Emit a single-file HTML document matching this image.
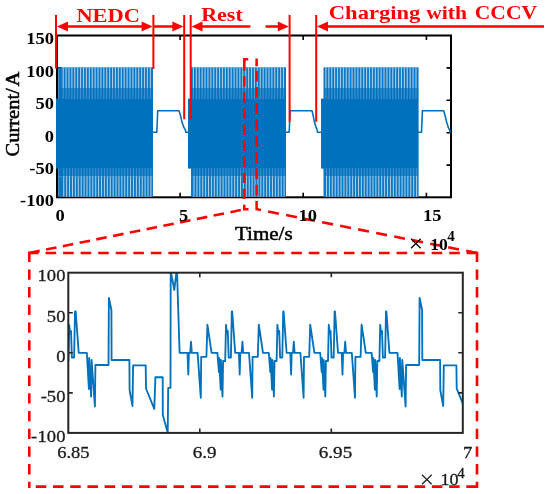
<!DOCTYPE html>
<html lang="en">
<head>
<meta charset="utf-8">
<title>NEDC current profile</title>
<style>
html,body{margin:0;padding:0;background:#fff;}
body{width:550px;height:494px;overflow:hidden;position:relative;}
svg{display:block;position:absolute;left:0;top:0;}
text{font-family:"Liberation Serif",serif;}
.t1{font-size:17.6px;fill:#000;font-weight:bold;}
.t2{font-size:17.5px;fill:#1a1a1a;stroke:#1a1a1a;stroke-width:0.3px;}
.lab{font-size:19.2px;fill:#000;stroke:#000;stroke-width:0.5px;}
.ann{font-size:19.6px;font-weight:bold;fill:#ff0000;}
</style>
</head>
<body>
<svg width="550" height="494" viewBox="0 0 550 494">
<rect x="0" y="0" width="550" height="494" fill="#ffffff"/>

<g id="upper-axes" fill="none" stroke="#000000" stroke-width="2">
<rect x="57.0" y="35.5" width="394.0" height="161.8"/>
<path d="M180.1 35.5 v4.5 M180.1 197.3 v-4.5 M303.2 35.5 v4.5 M303.2 197.3 v-4.5 M426.4 35.5 v4.5 M426.4 197.3 v-4.5 M57.0 67.9 h4.5 M451.0 67.9 h-4.5 M57.0 100.3 h4.5 M451.0 100.3 h-4.5 M57.0 132.7 h4.5 M451.0 132.7 h-4.5 M57.0 165.1 h4.5 M451.0 165.1 h-4.5" stroke-width="1.6"/>
</g>
<g id="upper-data">
<rect x="56.0" y="98.6" width="97.0" height="70" fill="#0072bd"/>
<rect x="58.2" y="67.3" width="94.8" height="20.9" fill="#0e79c2"/>
<rect x="58.2" y="88" width="94.8" height="11" fill="#0574be"/>
<rect x="58.2" y="168" width="94.8" height="8.5" fill="#0574be"/>
<rect x="58.2" y="176.3" width="94.8" height="20.5" fill="#0e79c2"/>
<path d="M63.15 67.3V88.2 M66.06 67.3V88.2 M68.96 67.3V88.2 M71.87 67.3V88.2 M74.77 67.3V88.2 M77.68 67.3V88.2 M80.59 67.3V88.2 M83.49 67.3V88.2 M86.40 67.3V88.2 M89.30 67.3V88.2 M92.21 67.3V88.2 M95.12 67.3V88.2 M98.02 67.3V88.2 M100.93 67.3V88.2 M103.83 67.3V88.2 M106.74 67.3V88.2 M109.65 67.3V88.2 M112.55 67.3V88.2 M115.46 67.3V88.2 M118.36 67.3V88.2 M121.27 67.3V88.2 M124.18 67.3V88.2 M127.08 67.3V88.2 M129.99 67.3V88.2 M132.89 67.3V88.2 M135.80 67.3V88.2 M138.71 67.3V88.2 M141.61 67.3V88.2 M144.52 67.3V88.2 M147.42 67.3V88.2 M150.33 67.3V88.2" stroke="#a6cdea" stroke-width="1.1" fill="none"/>
<path d="M63.15 88.2V99.0 M66.06 88.2V99.0 M68.96 88.2V99.0 M71.87 88.2V99.0 M74.77 88.2V99.0 M77.68 88.2V99.0 M80.59 88.2V99.0 M83.49 88.2V99.0 M86.40 88.2V99.0 M89.30 88.2V99.0 M92.21 88.2V99.0 M95.12 88.2V99.0 M98.02 88.2V99.0 M100.93 88.2V99.0 M103.83 88.2V99.0 M106.74 88.2V99.0 M109.65 88.2V99.0 M112.55 88.2V99.0 M115.46 88.2V99.0 M118.36 88.2V99.0 M121.27 88.2V99.0 M124.18 88.2V99.0 M127.08 88.2V99.0 M129.99 88.2V99.0 M132.89 88.2V99.0 M135.80 88.2V99.0 M138.71 88.2V99.0 M141.61 88.2V99.0 M144.52 88.2V99.0 M147.42 88.2V99.0 M150.33 88.2V99.0" stroke="#3f92cf" stroke-width="1.1" fill="none"/>
<path d="M63.75 168.0V176.4 M66.66 168.0V176.4 M69.56 168.0V176.4 M72.47 168.0V176.4 M75.37 168.0V176.4 M78.28 168.0V176.4 M81.19 168.0V176.4 M84.09 168.0V176.4 M87.00 168.0V176.4 M89.90 168.0V176.4 M92.81 168.0V176.4 M95.72 168.0V176.4 M98.62 168.0V176.4 M101.53 168.0V176.4 M104.43 168.0V176.4 M107.34 168.0V176.4 M110.25 168.0V176.4 M113.15 168.0V176.4 M116.06 168.0V176.4 M118.96 168.0V176.4 M121.87 168.0V176.4 M124.78 168.0V176.4 M127.68 168.0V176.4 M130.59 168.0V176.4 M133.49 168.0V176.4 M136.40 168.0V176.4 M139.31 168.0V176.4 M142.21 168.0V176.4 M145.12 168.0V176.4 M148.02 168.0V176.4 M150.93 168.0V176.4" stroke="#3f92cf" stroke-width="1.0" fill="none"/>
<path d="M63.75 176.4V196.8 M66.66 176.4V196.8 M69.56 176.4V196.8 M72.47 176.4V196.8 M75.37 176.4V196.8 M78.28 176.4V196.8 M81.19 176.4V196.8 M84.09 176.4V196.8 M87.00 176.4V196.8 M89.90 176.4V196.8 M92.81 176.4V196.8 M95.72 176.4V196.8 M98.62 176.4V196.8 M101.53 176.4V196.8 M104.43 176.4V196.8 M107.34 176.4V196.8 M110.25 176.4V196.8 M113.15 176.4V196.8 M116.06 176.4V196.8 M118.96 176.4V196.8 M121.87 176.4V196.8 M124.78 176.4V196.8 M127.68 176.4V196.8 M130.59 176.4V196.8 M133.49 176.4V196.8 M136.40 176.4V196.8 M139.31 176.4V196.8 M142.21 176.4V196.8 M145.12 176.4V196.8 M148.02 176.4V196.8 M150.93 176.4V196.8" stroke="#c2ddf1" stroke-width="0.9" fill="none"/>
<rect x="188.0" y="98.6" width="98.0" height="70" fill="#0072bd"/>
<rect x="191.0" y="67.3" width="95.0" height="20.9" fill="#0e79c2"/>
<rect x="191.0" y="88" width="95.0" height="11" fill="#0574be"/>
<rect x="191.0" y="168" width="95.0" height="8.5" fill="#0574be"/>
<rect x="191.0" y="176.3" width="95.0" height="20.5" fill="#0e79c2"/>
<path d="M193.40 67.3V88.2 M196.31 67.3V88.2 M199.21 67.3V88.2 M202.12 67.3V88.2 M205.02 67.3V88.2 M207.93 67.3V88.2 M210.84 67.3V88.2 M213.74 67.3V88.2 M216.65 67.3V88.2 M219.55 67.3V88.2 M222.46 67.3V88.2 M225.37 67.3V88.2 M228.27 67.3V88.2 M231.18 67.3V88.2 M234.08 67.3V88.2 M236.99 67.3V88.2 M239.90 67.3V88.2 M242.80 67.3V88.2 M245.71 67.3V88.2 M248.61 67.3V88.2 M251.52 67.3V88.2 M254.43 67.3V88.2 M257.33 67.3V88.2 M260.24 67.3V88.2 M263.14 67.3V88.2 M266.05 67.3V88.2 M268.96 67.3V88.2 M271.86 67.3V88.2 M274.77 67.3V88.2 M277.67 67.3V88.2 M280.58 67.3V88.2 M283.49 67.3V88.2" stroke="#a6cdea" stroke-width="1.1" fill="none"/>
<path d="M193.40 88.2V99.0 M196.31 88.2V99.0 M199.21 88.2V99.0 M202.12 88.2V99.0 M205.02 88.2V99.0 M207.93 88.2V99.0 M210.84 88.2V99.0 M213.74 88.2V99.0 M216.65 88.2V99.0 M219.55 88.2V99.0 M222.46 88.2V99.0 M225.37 88.2V99.0 M228.27 88.2V99.0 M231.18 88.2V99.0 M234.08 88.2V99.0 M236.99 88.2V99.0 M239.90 88.2V99.0 M242.80 88.2V99.0 M245.71 88.2V99.0 M248.61 88.2V99.0 M251.52 88.2V99.0 M254.43 88.2V99.0 M257.33 88.2V99.0 M260.24 88.2V99.0 M263.14 88.2V99.0 M266.05 88.2V99.0 M268.96 88.2V99.0 M271.86 88.2V99.0 M274.77 88.2V99.0 M277.67 88.2V99.0 M280.58 88.2V99.0 M283.49 88.2V99.0" stroke="#3f92cf" stroke-width="1.1" fill="none"/>
<path d="M194.00 168.0V176.4 M196.91 168.0V176.4 M199.81 168.0V176.4 M202.72 168.0V176.4 M205.62 168.0V176.4 M208.53 168.0V176.4 M211.44 168.0V176.4 M214.34 168.0V176.4 M217.25 168.0V176.4 M220.15 168.0V176.4 M223.06 168.0V176.4 M225.97 168.0V176.4 M228.87 168.0V176.4 M231.78 168.0V176.4 M234.68 168.0V176.4 M237.59 168.0V176.4 M240.50 168.0V176.4 M243.40 168.0V176.4 M246.31 168.0V176.4 M249.21 168.0V176.4 M252.12 168.0V176.4 M255.03 168.0V176.4 M257.93 168.0V176.4 M260.84 168.0V176.4 M263.74 168.0V176.4 M266.65 168.0V176.4 M269.56 168.0V176.4 M272.46 168.0V176.4 M275.37 168.0V176.4 M278.27 168.0V176.4 M281.18 168.0V176.4 M284.09 168.0V176.4" stroke="#3f92cf" stroke-width="1.0" fill="none"/>
<path d="M194.00 176.4V196.8 M196.91 176.4V196.8 M199.81 176.4V196.8 M202.72 176.4V196.8 M205.62 176.4V196.8 M208.53 176.4V196.8 M211.44 176.4V196.8 M214.34 176.4V196.8 M217.25 176.4V196.8 M220.15 176.4V196.8 M223.06 176.4V196.8 M225.97 176.4V196.8 M228.87 176.4V196.8 M231.78 176.4V196.8 M234.68 176.4V196.8 M237.59 176.4V196.8 M240.50 176.4V196.8 M243.40 176.4V196.8 M246.31 176.4V196.8 M249.21 176.4V196.8 M252.12 176.4V196.8 M255.03 176.4V196.8 M257.93 176.4V196.8 M260.84 176.4V196.8 M263.74 176.4V196.8 M266.65 176.4V196.8 M269.56 176.4V196.8 M272.46 176.4V196.8 M275.37 176.4V196.8 M278.27 176.4V196.8 M281.18 176.4V196.8 M284.09 176.4V196.8" stroke="#c2ddf1" stroke-width="0.9" fill="none"/>
<rect x="321.0" y="98.6" width="97.6" height="70" fill="#0072bd"/>
<rect x="323.5" y="67.3" width="95.1" height="20.9" fill="#0e79c2"/>
<rect x="323.5" y="88" width="95.1" height="11" fill="#0574be"/>
<rect x="323.5" y="168" width="95.1" height="8.5" fill="#0574be"/>
<rect x="323.5" y="176.3" width="95.1" height="20.5" fill="#0e79c2"/>
<path d="M325.90 67.3V88.2 M328.81 67.3V88.2 M331.71 67.3V88.2 M334.62 67.3V88.2 M337.52 67.3V88.2 M340.43 67.3V88.2 M343.34 67.3V88.2 M346.24 67.3V88.2 M349.15 67.3V88.2 M352.05 67.3V88.2 M354.96 67.3V88.2 M357.87 67.3V88.2 M360.77 67.3V88.2 M363.68 67.3V88.2 M366.58 67.3V88.2 M369.49 67.3V88.2 M372.40 67.3V88.2 M375.30 67.3V88.2 M378.21 67.3V88.2 M381.11 67.3V88.2 M384.02 67.3V88.2 M386.93 67.3V88.2 M389.83 67.3V88.2 M392.74 67.3V88.2 M395.64 67.3V88.2 M398.55 67.3V88.2 M401.46 67.3V88.2 M404.36 67.3V88.2 M407.27 67.3V88.2 M410.17 67.3V88.2 M413.08 67.3V88.2 M415.99 67.3V88.2" stroke="#a6cdea" stroke-width="1.1" fill="none"/>
<path d="M325.90 88.2V99.0 M328.81 88.2V99.0 M331.71 88.2V99.0 M334.62 88.2V99.0 M337.52 88.2V99.0 M340.43 88.2V99.0 M343.34 88.2V99.0 M346.24 88.2V99.0 M349.15 88.2V99.0 M352.05 88.2V99.0 M354.96 88.2V99.0 M357.87 88.2V99.0 M360.77 88.2V99.0 M363.68 88.2V99.0 M366.58 88.2V99.0 M369.49 88.2V99.0 M372.40 88.2V99.0 M375.30 88.2V99.0 M378.21 88.2V99.0 M381.11 88.2V99.0 M384.02 88.2V99.0 M386.93 88.2V99.0 M389.83 88.2V99.0 M392.74 88.2V99.0 M395.64 88.2V99.0 M398.55 88.2V99.0 M401.46 88.2V99.0 M404.36 88.2V99.0 M407.27 88.2V99.0 M410.17 88.2V99.0 M413.08 88.2V99.0 M415.99 88.2V99.0" stroke="#3f92cf" stroke-width="1.1" fill="none"/>
<path d="M326.50 168.0V176.4 M329.41 168.0V176.4 M332.31 168.0V176.4 M335.22 168.0V176.4 M338.12 168.0V176.4 M341.03 168.0V176.4 M343.94 168.0V176.4 M346.84 168.0V176.4 M349.75 168.0V176.4 M352.65 168.0V176.4 M355.56 168.0V176.4 M358.47 168.0V176.4 M361.37 168.0V176.4 M364.28 168.0V176.4 M367.18 168.0V176.4 M370.09 168.0V176.4 M373.00 168.0V176.4 M375.90 168.0V176.4 M378.81 168.0V176.4 M381.71 168.0V176.4 M384.62 168.0V176.4 M387.53 168.0V176.4 M390.43 168.0V176.4 M393.34 168.0V176.4 M396.24 168.0V176.4 M399.15 168.0V176.4 M402.06 168.0V176.4 M404.96 168.0V176.4 M407.87 168.0V176.4 M410.77 168.0V176.4 M413.68 168.0V176.4 M416.59 168.0V176.4" stroke="#3f92cf" stroke-width="1.0" fill="none"/>
<path d="M326.50 176.4V196.8 M329.41 176.4V196.8 M332.31 176.4V196.8 M335.22 176.4V196.8 M338.12 176.4V196.8 M341.03 176.4V196.8 M343.94 176.4V196.8 M346.84 176.4V196.8 M349.75 176.4V196.8 M352.65 176.4V196.8 M355.56 176.4V196.8 M358.47 176.4V196.8 M361.37 176.4V196.8 M364.28 176.4V196.8 M367.18 176.4V196.8 M370.09 176.4V196.8 M373.00 176.4V196.8 M375.90 176.4V196.8 M378.81 176.4V196.8 M381.71 176.4V196.8 M384.62 176.4V196.8 M387.53 176.4V196.8 M390.43 176.4V196.8 M393.34 176.4V196.8 M396.24 176.4V196.8 M399.15 176.4V196.8 M402.06 176.4V196.8 M404.96 176.4V196.8 M407.87 176.4V196.8 M410.77 176.4V196.8 M413.68 176.4V196.8 M416.59 176.4V196.8" stroke="#c2ddf1" stroke-width="0.9" fill="none"/>
<g fill="none" stroke="#0072bd" stroke-width="1.6" stroke-linejoin="round">
<path d="M153.0 132.2 L156.8 132.2 L157.7 110.8 L179.0 110.8 L180.3 114.8 L182.0 122.1 L184.1 127.9 L185.4 129.9 L185.7 132.2 L188.5 132.2"/>
<path d="M285.5 132.2 L289.2 132.2 L290.1 110.8 L312.0 110.8 L313.0 114.8 L314.5 122.1 L316.2 127.9 L317.2 129.9 L317.5 132.2 L321.5 132.2"/>
<path d="M418.0 132.2 L421.5 132.2 L422.4 110.8 L443.7 110.8 L444.9 114.8 L446.6 122.1 L448.5 127.9 L449.7 129.9 L450.0 132.2 L450.8 132.2"/>
</g></g>
<g id="annot" stroke="#ff0000" fill="none" stroke-width="2">
<path d="M56 15 V68.5 M153.4 15 V69 M184.2 15 V119.2 M190.7 15 V119.2 M289.6 15 V121.8 M316.2 15 V121.8"/>
<path d="M60 26.5 H150 M154 26.5 H178 M197 26.5 H250.4 M265.5 26.5 H283 M323 26.5 H544" stroke-width="2.3"/>
</g>
<path d="M57.0 26.5 L68.0 21.5 L68.0 31.5 Z" fill="#ff0000"/>
<path d="M152.6 26.5 L141.6 21.5 L141.6 31.5 Z" fill="#ff0000"/>
<path d="M183.4 26.5 L172.4 21.5 L172.4 31.5 Z" fill="#ff0000"/>
<path d="M191.5 26.5 L202.5 21.5 L202.5 31.5 Z" fill="#ff0000"/>
<path d="M288.8 26.5 L277.8 21.5 L277.8 31.5 Z" fill="#ff0000"/>
<path d="M317.0 26.5 L328.0 21.5 L328.0 31.5 Z" fill="#ff0000"/>
<text class="ann" x="76.4" y="21.6" textLength="63.6" lengthAdjust="spacingAndGlyphs">NEDC</text>
<text class="ann" x="201.2" y="21.3" textLength="41.6" lengthAdjust="spacingAndGlyphs">Rest</text>
<text class="ann" y="19.1"><tspan x="328.8" textLength="91.5" lengthAdjust="spacingAndGlyphs">Charging</tspan><tspan x="420.6" textLength="5.6" lengthAdjust="spacingAndGlyphs"> </tspan><tspan x="426.2" textLength="40.8" lengthAdjust="spacingAndGlyphs">with</tspan><tspan x="467.6" textLength="7" lengthAdjust="spacingAndGlyphs"> </tspan><tspan x="474.8" textLength="62.2" lengthAdjust="spacingAndGlyphs">CCCV</tspan></text>
<g id="zoom" stroke="#ff0000" fill="none" stroke-width="2.5">
<path d="M244.3 60.3 V209.4" stroke-dasharray="10.4 5.65"/>
<path d="M244.3 58 V62 M243.05 59.2 H248.3 M243.05 209.2 H248.5 M256.6 58.5 V66.2"/>
<path d="M256.6 70.7 V210.3" stroke-dasharray="10.8 5.5"/>
<path d="M477 253 L257 209.3" stroke-dasharray="11 7.36" stroke-width="2.6"/>
<path d="M29.3 253 L244 209.4" stroke-dasharray="10.6 6.5" stroke-width="2.6"/>
<path d="M28 253 H478.3" stroke-dasharray="10.6 6.95" stroke-width="2.6"/>
<path d="M35.8 486.6 H478.3" stroke-dasharray="10.5 6.72" stroke-width="2.6"/>
<path d="M29.3 251.7 V488 M477 251.7 V488" stroke-dasharray="10.3 7.4" stroke-width="2.6"/>
</g>
<g class="t1">
<text transform="translate(53.9 44.4) scale(1.050 1)" text-anchor="end">150</text>
<text transform="translate(53.9 76.8) scale(1.050 1)" text-anchor="end">100</text>
<text transform="translate(53.9 109.2) scale(1.050 1)" text-anchor="end">50</text>
<text transform="translate(53.9 141.6) scale(1.050 1)" text-anchor="end">0</text>
<text transform="translate(53.9 174.0) scale(1.050 1)" text-anchor="end">-50</text>
<text transform="translate(53.9 206.4) scale(1.050 1)" text-anchor="end">-100</text>
<text transform="translate(55.6 221.3) scale(1.050 1)">0</text>
<text transform="translate(179.1 221.3) scale(1.050 1)">5</text>
<text transform="translate(298.6 221.3) scale(1.050 1)">10</text>
<text transform="translate(423.1 221.3) scale(1.050 1)">15</text>
</g>
<text class="lab" x="235" y="239.6" textLength="57.6" lengthAdjust="spacingAndGlyphs">Time/s</text>
<text class="lab" transform="translate(19 156.5) rotate(-90)" textLength="84.8" lengthAdjust="spacingAndGlyphs">Current/<tspan dx="1.6">A</tspan></text>
<text class="t1" x="408.6" y="251.6" style="font-weight:normal;font-size:26px">×</text>
<text class="t1" x="430.3" y="250.3">10</text>
<text class="t1" x="447.2" y="240.9" style="font-size:15px">4</text>
<clipPath id="lc"><rect x="68.3" y="271.7" width="394.5" height="162.2"/></clipPath>
<path d="M23.8 311.5 L24.0 311.5 L27.0 352.8 L30.7 352.8 L31.5 374.5 L32.1 352.8 L33.4 352.8 L34.2 341.7 L35.0 352.8 L40.8 352.8 L44.0 397.8 L44.4 356.8 L49.6 356.8 L50.6 324.7 L54.8 352.8 L60.6 352.8 L62.1 372.0 L62.3 358.0 L63.9 389.6 L64.1 360.0 L65.7 396.5 L66.3 361.0 L68.4 361.0 L69.2 324.8 L70.2 333.5 L71.0 331.0 L71.9 357.5 L74.1 357.5 L75.0 311.5 L75.5 311.5 L75.7 311.5 L78.7 352.8 L86.8 352.8 L88.9 389.0 L89.2 358.0 L91.1 396.5 L91.6 360.0 L94.9 406.5 L95.4 365.0 L108.5 365.0 L108.9 298.0 L111.4 310.0 L111.6 360.0 L129.4 360.0 L129.6 390.0 L132.5 406.0 L133.1 365.3 L145.7 365.3 L146.0 388.5 L154.3 408.9 L155.4 377.2 L162.7 377.2 L162.8 415.0 L167.7 432.6 L168.2 387.8 L170.5 387.8 L170.7 272.8 L171.1 272.8 L174.3 290.0 L176.3 272.8 L177.1 274.0 L179.6 352.8 L183.8 352.8 L187.5 352.8 L188.3 374.5 L188.9 352.8 L190.2 352.8 L191.0 341.7 L191.8 352.8 L197.6 352.8 L200.8 397.8 L201.2 356.8 L206.4 356.8 L207.4 324.7 L211.6 352.8 L217.4 352.8 L218.9 372.0 L219.1 358.0 L220.7 389.6 L220.9 360.0 L222.5 396.5 L223.1 361.0 L225.2 361.0 L226.0 324.8 L227.0 333.5 L227.8 331.0 L228.7 357.5 L230.9 357.5 L231.8 311.5 L232.0 311.5 L232.2 311.5 L235.2 352.8 L238.9 352.8 L239.7 374.5 L240.3 352.8 L241.6 352.8 L242.4 341.7 L243.2 352.8 L249.0 352.8 L252.2 397.8 L252.6 356.8 L257.8 356.8 L258.8 324.7 L263.0 352.8 L268.8 352.8 L270.3 372.0 L270.5 358.0 L272.1 389.6 L272.3 360.0 L273.9 396.5 L274.5 361.0 L276.6 361.0 L277.4 324.8 L278.4 333.5 L279.2 331.0 L280.1 357.5 L282.3 357.5 L283.2 311.5 L283.4 311.5 L283.6 311.5 L286.6 352.8 L290.3 352.8 L291.1 374.5 L291.7 352.8 L293.0 352.8 L293.8 341.7 L294.6 352.8 L300.4 352.8 L303.6 397.8 L304.0 356.8 L309.2 356.8 L310.2 324.7 L314.4 352.8 L320.2 352.8 L321.7 372.0 L321.9 358.0 L323.5 389.6 L323.7 360.0 L325.3 396.5 L325.9 361.0 L328.0 361.0 L328.8 324.8 L329.8 333.5 L330.6 331.0 L331.5 357.5 L333.7 357.5 L334.6 311.5 L334.8 311.5 L335.0 311.5 L338.0 352.8 L341.7 352.8 L342.5 374.5 L343.1 352.8 L344.4 352.8 L345.2 341.7 L346.0 352.8 L351.8 352.8 L355.0 397.8 L355.4 356.8 L360.6 356.8 L361.6 324.7 L365.8 352.8 L371.6 352.8 L373.1 372.0 L373.3 358.0 L374.9 389.6 L375.1 360.0 L376.7 396.5 L377.3 361.0 L379.4 361.0 L380.2 324.8 L381.2 333.5 L382.0 331.0 L382.9 357.5 L385.1 357.5 L386.0 311.5 L386.2 311.5 L386.4 311.5 L389.4 352.8 L397.5 352.8 L399.6 389.0 L399.9 358.0 L401.8 396.5 L402.3 360.0 L405.6 406.5 L406.1 365.0 L419.2 365.0 L419.6 298.0 L422.1 310.0 L422.3 360.0 L440.1 360.0 L440.3 390.0 L443.2 406.0 L443.8 365.3 L456.4 365.3 L456.7 388.5 L465.0 408.9 L466.1 377.2 L473.4 377.2 L473.5 415.0 L478.4 432.6 L478.9 387.8 L481.2 387.8 L481.4 272.8 L481.8 272.8 L485.0 290.0 L487.0 272.8 L487.8 274.0 L490.3 352.8" fill="none" stroke="#0072bd" stroke-width="1.85" stroke-linejoin="round" clip-path="url(#lc)"/>
<g id="lower-axes" fill="none" stroke="#262626" stroke-width="2">
<rect x="68.3" y="272.7" width="394.5" height="160.2"/>
<path d="M199.8 272.7 v4.5 M199.8 432.9 v-4.5 M331.3 272.7 v4.5 M331.3 432.9 v-4.5 M68.3 312.8 h4.5 M462.8 312.8 h-4.5 M68.3 352.8 h4.5 M462.8 352.8 h-4.5 M68.3 392.9 h4.5 M462.8 392.9 h-4.5" stroke-width="1.6"/>
</g>
<g class="t2">
<text transform="translate(65.4 281.4) scale(1.060 1)" text-anchor="end">100</text>
<text transform="translate(65.4 321.5) scale(1.060 1)" text-anchor="end">50</text>
<text transform="translate(65.4 361.5) scale(1.060 1)" text-anchor="end">0</text>
<text transform="translate(65.4 401.6) scale(1.060 1)" text-anchor="end">-50</text>
<text transform="translate(65.4 441.7) scale(1.060 1)" text-anchor="end">100</text>
<text transform="translate(31.0 441.7) scale(1.060 1)">-</text>
<text transform="translate(57.2 457.6) scale(1.060 1)">6.85</text>
<text transform="translate(192.8 457.6) scale(1.090 1)">6.9</text>
<text transform="translate(318.8 457.6) scale(1.090 1)">6.95</text>
<text transform="translate(463.0 457.6) scale(1.060 1)">7</text>
<text transform="translate(419.5 488.3) scale(1.000 1)" style="font-size:26px;stroke:none">×</text>
<text transform="translate(440.6 485.0) scale(1.030 1)">10</text>
<text transform="translate(457.3 478.0) scale(1.000 1)" style="font-size:15px">4</text>
</g>
</svg>
</body>
</html>
